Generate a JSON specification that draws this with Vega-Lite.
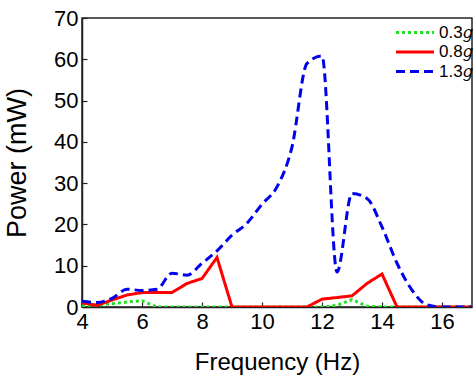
{
  "$schema": "https://vega.github.io/schema/vega-lite/v6.json",
  "width": 390,
  "height": 289,
  "autosize": {"type": "none"},
  "padding": {"left": 82, "top": 18, "right": 2, "bottom": 72},
  "datasets": {
    "d": [
      {"f": 4, "s": "0.3𝑔", "p": 0.3}, {"f": 4.5, "s": "0.3𝑔", "p": 0.5}, {"f": 5, "s": "0.3𝑔", "p": 0.8}, {"f": 5.5, "s": "0.3𝑔", "p": 1.2}, {"f": 6, "s": "0.3𝑔", "p": 1.5}, {"f": 6.5, "s": "0.3𝑔", "p": 0}, {"f": 7, "s": "0.3𝑔", "p": 0}, {"f": 7.5, "s": "0.3𝑔", "p": 0}, {"f": 8, "s": "0.3𝑔", "p": 0}, {"f": 8.5, "s": "0.3𝑔", "p": 0}, {"f": 9, "s": "0.3𝑔", "p": 0}, {"f": 9.5, "s": "0.3𝑔", "p": 0}, {"f": 10, "s": "0.3𝑔", "p": 0}, {"f": 10.5, "s": "0.3𝑔", "p": 0}, {"f": 11, "s": "0.3𝑔", "p": 0}, {"f": 11.5, "s": "0.3𝑔", "p": 0}, {"f": 12, "s": "0.3𝑔", "p": 0}, {"f": 12.5, "s": "0.3𝑔", "p": 0.4}, {"f": 13, "s": "0.3𝑔", "p": 1.8}, {"f": 13.5, "s": "0.3𝑔", "p": 0.2}, {"f": 14, "s": "0.3𝑔", "p": 0}, {"f": 14.5, "s": "0.3𝑔", "p": 0}, {"f": 15, "s": "0.3𝑔", "p": 0}, {"f": 15.5, "s": "0.3𝑔", "p": 0}, {"f": 16, "s": "0.3𝑔", "p": 0}, {"f": 16.5, "s": "0.3𝑔", "p": 0}, {"f": 17, "s": "0.3𝑔", "p": 0},
      {"f": 4, "s": "0.8𝑔", "p": 1.0}, {"f": 4.5, "s": "0.8𝑔", "p": 0.4}, {"f": 5, "s": "0.8𝑔", "p": 1.7}, {"f": 5.5, "s": "0.8𝑔", "p": 2.9}, {"f": 6, "s": "0.8𝑔", "p": 3.5}, {"f": 6.5, "s": "0.8𝑔", "p": 3.5}, {"f": 7, "s": "0.8𝑔", "p": 3.5}, {"f": 7.5, "s": "0.8𝑔", "p": 5.7}, {"f": 8, "s": "0.8𝑔", "p": 6.9}, {"f": 8.5, "s": "0.8𝑔", "p": 12.0}, {"f": 9, "s": "0.8𝑔", "p": 0}, {"f": 9.5, "s": "0.8𝑔", "p": 0}, {"f": 10, "s": "0.8𝑔", "p": 0}, {"f": 10.5, "s": "0.8𝑔", "p": 0}, {"f": 11, "s": "0.8𝑔", "p": 0}, {"f": 11.5, "s": "0.8𝑔", "p": 0}, {"f": 12, "s": "0.8𝑔", "p": 1.9}, {"f": 12.5, "s": "0.8𝑔", "p": 2.3}, {"f": 13, "s": "0.8𝑔", "p": 2.7}, {"f": 13.5, "s": "0.8𝑔", "p": 5.7}, {"f": 14, "s": "0.8𝑔", "p": 8.0}, {"f": 14.5, "s": "0.8𝑔", "p": 0}, {"f": 15, "s": "0.8𝑔", "p": 0}, {"f": 15.5, "s": "0.8𝑔", "p": 0}, {"f": 16, "s": "0.8𝑔", "p": 0}, {"f": 16.5, "s": "0.8𝑔", "p": 0}, {"f": 17, "s": "0.8𝑔", "p": 0},
      {"f": 4, "s": "1.3𝑔", "p": 1.4}, {"f": 4.5, "s": "1.3𝑔", "p": 1.1}, {"f": 5, "s": "1.3𝑔", "p": 2.1}, {"f": 5.5, "s": "1.3𝑔", "p": 4.3}, {"f": 6, "s": "1.3𝑔", "p": 4.0}, {"f": 6.5, "s": "1.3𝑔", "p": 4.3}, {"f": 7, "s": "1.3𝑔", "p": 8.2}, {"f": 7.5, "s": "1.3𝑔", "p": 7.7}, {"f": 8, "s": "1.3𝑔", "p": 10.6}, {"f": 8.5, "s": "1.3𝑔", "p": 13.6}, {"f": 9, "s": "1.3𝑔", "p": 17.4}, {"f": 9.5, "s": "1.3𝑔", "p": 20.3}, {"f": 10, "s": "1.3𝑔", "p": 24.9}, {"f": 10.5, "s": "1.3𝑔", "p": 29.1}, {"f": 11, "s": "1.3𝑔", "p": 38.8}, {"f": 11.5, "s": "1.3𝑔", "p": 59.0}, {"f": 12, "s": "1.3𝑔", "p": 60.8}, {"f": 12.5, "s": "1.3𝑔", "p": 8.5}, {"f": 13, "s": "1.3𝑔", "p": 27.5}, {"f": 13.5, "s": "1.3𝑔", "p": 26.3}, {"f": 14, "s": "1.3𝑔", "p": 19.4}, {"f": 14.5, "s": "1.3𝑔", "p": 10.6}, {"f": 15, "s": "1.3𝑔", "p": 4.1}, {"f": 15.5, "s": "1.3𝑔", "p": 0.5}, {"f": 16, "s": "1.3𝑔", "p": 0}, {"f": 16.5, "s": "1.3𝑔", "p": 0}, {"f": 17, "s": "1.3𝑔", "p": 0}
    ]
  },
  "data": {"name": "d"},
  "encoding": {
    "x": {"field": "f", "type": "quantitative", "scale": {"domain": [4, 17], "nice": false}, "axis": {"title": "Frequency (Hz)", "values": [4, 6, 8, 10, 12, 14, 16], "labelPadding": 9, "titlePadding": 18}},
    "y": {"field": "p", "type": "quantitative", "scale": {"domain": [0, 70], "nice": false}, "axis": {"title": "Power (mW)", "titleFontSize": 27, "values": [0, 10, 20, 30, 40, 50, 60, 70], "labelPadding": 9, "titlePadding": 22}},
    "color": {"field": "s", "type": "nominal", "scale": {"domain": ["0.3𝑔", "0.8𝑔", "1.3𝑔"], "range": ["#22e022", "#ff0000", "#0000ee"]}, "legend": {"title": null}},
    "strokeDash": {"field": "s", "type": "nominal", "scale": {"domain": ["0.3𝑔", "0.8𝑔", "1.3𝑔"], "range": [[3, 3], [1, 0], [9, 5]]}, "legend": {"title": null}}
  },
  "layer": [
    {"transform": [{"filter": "datum.s != '1.3𝑔'"}], "mark": {"type": "line", "strokeWidth": 3, "clip": true}},
    {"transform": [{"filter": "datum.s == '1.3𝑔'"}], "mark": {"type": "line", "strokeWidth": 3, "interpolate": "monotone", "clip": true}}
  ],
  "config": {
    "font": "Liberation Sans",
    "view": {"stroke": "#222", "strokeWidth": 1.5},
    "axis": {"labelFont": "Liberation Sans", "labelFontSize": 22, "labelColor": "#000", "titleFont": "Liberation Sans", "titleFontSize": 24, "titleFontWeight": "normal", "titleColor": "#000", "grid": false, "domainColor": "#222", "domainWidth": 1.5, "tickColor": "#222", "tickSize": -5, "tickWidth": 1.2, "labelFlush": false},
    "legend": {"orient": "none", "legendX": 322, "legendY": 3.5, "padding": 0, "labelFont": "Liberation Sans", "labelFontSize": 17, "labelColor": "#000", "symbolType": "M-2,0H2", "symbolSize": 361, "symbolStrokeWidth": 3, "rowPadding": 0.5, "labelOffset": 13}
  }
}
